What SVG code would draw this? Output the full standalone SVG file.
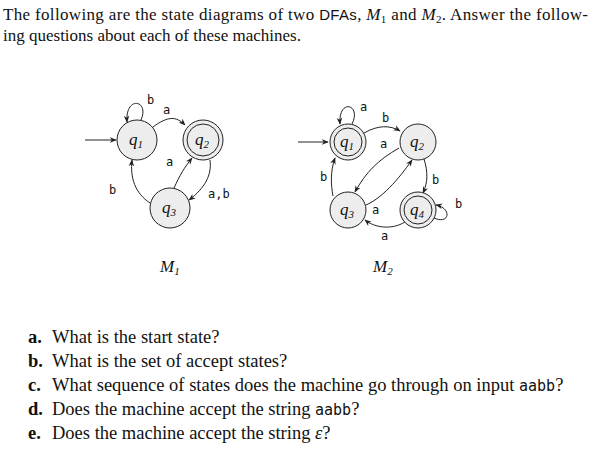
<svg xmlns="http://www.w3.org/2000/svg" width="602" height="456" viewBox="0 0 602 456">
<style>
.t{font-family:"Liberation Serif",serif;font-size:17px;fill:#111}
.qq{font-size:18.5px}
.b{font-weight:bold}
.m{font-family:"DejaVu Sans Mono","Liberation Mono",monospace;font-size:12px;fill:#111}
.mt{font-family:"DejaVu Sans Mono","Liberation Mono",monospace;font-size:15px}
.q{font-family:"Liberation Serif",serif;font-style:italic;font-size:17px;fill:#111}
.s{font-size:11px}
.n{fill:#ededed;stroke:#222;stroke-width:1}
.i{fill:none;stroke:#222;stroke-width:1}
.e{fill:none;stroke:#222;stroke-width:1;marker-end:url(#ah)}
</style>
<defs><marker id="ah" viewBox="0 0 10 10" refX="9" refY="5" markerWidth="7" markerHeight="7" orient="auto"><path d="M0,1 L10,5 L0,9 L3,5 z" fill="#222"/></marker></defs>
<rect width="602" height="456" fill="#fff"/>
<text class="t" x="3" y="20" textLength="585">The following are the state diagrams of two <tspan font-family="Liberation Sans" font-size="15">DFAs</tspan>, <tspan font-style="italic">M</tspan><tspan font-size="11" dy="3">1</tspan><tspan dy="-3"> and </tspan><tspan font-style="italic">M</tspan><tspan font-size="11" dy="3">2</tspan><tspan dy="-3">. Answer the follow-</tspan></text>
<text class="t" x="3" y="41">ing questions about each of these machines.</text>
<g id="connectors">
<path class="e" d="M85,140 L116,140"/>
<path class="e" d="M141,120 C150,100 125,95 127,122"/>
<path class="e" d="M153,127 C168,116 176,116 185,125"/>
<path class="e" d="M174,188 C180,175 184,168 192,158"/>
<path class="e" d="M210,160 C212,175 205,188 189,200"/>
<path class="e" d="M150,203 C135,193 130,178 132,160"/>
<path class="e" d="M298,142 L328,142"/>
<path class="e" d="M352,124 C362,104 338,98 340,124"/>
<path class="e" d="M364,133 C378,125 390,125 400,131"/>
<path class="e" d="M399,148 C378,160 366,172 355,192"/>
<path class="e" d="M366,205 C382,198 398,180 412,160"/>
<path class="e" d="M424,159 C428,172 428,182 423,193"/>
<path class="e" d="M405,222 C392,230 375,228 365,220"/>
<path class="e" d="M434,218 C450,225 452,208 436,205"/>
<path class="e" d="M333,196 C331,185 330,172 335,158"/>
</g>
<g id="labels" class="m">
<text x="147" y="104">b</text><text x="163" y="114">a</text><text x="166" y="166">a</text>
<text x="208" y="198">a,b</text><text x="109" y="194">b</text>
<text x="360" y="111">a</text><text x="382" y="122">b</text><text x="380" y="148">a</text>
<text x="432" y="184">b</text><text x="372" y="214">a</text><text x="381" y="240">a</text>
<text x="455" y="208">b</text><text x="320" y="181">b</text>
</g>
<g id="m1q1"><circle class="n" cx="137" cy="140" r="20"/><text class="q" x="129" y="145">q<tspan class="s" dy="3">1</tspan></text></g>
<g id="m1q2"><circle class="n" cx="203" cy="140" r="20"/><circle class="i" cx="203" cy="140" r="16"/><text class="q" x="195" y="145">q<tspan class="s" dy="3">2</tspan></text></g>
<g id="m1q3"><circle class="n" cx="170" cy="208" r="20"/><text class="q" x="162" y="213">q<tspan class="s" dy="3">3</tspan></text></g>
<g id="m2q1"><circle class="n" cx="348" cy="142" r="18"/><circle class="i" cx="348" cy="142" r="14"/><text class="q" x="340" y="147">q<tspan class="s" dy="3">1</tspan></text></g>
<g id="m2q2"><circle class="n" cx="418" cy="142" r="18"/><text class="q" x="410" y="147">q<tspan class="s" dy="3">2</tspan></text></g>
<g id="m2q3"><circle class="n" cx="348" cy="210" r="18"/><text class="q" x="340" y="215">q<tspan class="s" dy="3">3</tspan></text></g>
<g id="m2q4"><circle class="n" cx="418" cy="210" r="18"/><circle class="i" cx="418" cy="210" r="14"/><text class="q" x="410" y="215">q<tspan class="s" dy="3">4</tspan></text></g>
<text class="q" x="160" y="272">M<tspan class="s" dy="3">1</tspan></text>
<text class="q" x="373" y="272">M<tspan class="s" dy="3">2</tspan></text>
<g class="t qq">
<text x="28" y="343" class="b">a.</text><text x="52" y="343">What is the start state?</text>
<text x="28" y="367" class="b">b.</text><text x="52" y="367">What is the set of accept states?</text>
<text x="28" y="391" class="b">c.</text><text x="52" y="391">What sequence of states does the machine go through on input <tspan class="mt">aabb</tspan>?</text>
<text x="28" y="415" class="b">d.</text><text x="52" y="415">Does the machine accept the string <tspan class="mt">aabb</tspan>?</text>
<text x="28" y="439" class="b">e.</text><text x="52" y="439">Does the machine accept the string <tspan font-style="italic">ε</tspan>?</text>
</g>
</svg>
